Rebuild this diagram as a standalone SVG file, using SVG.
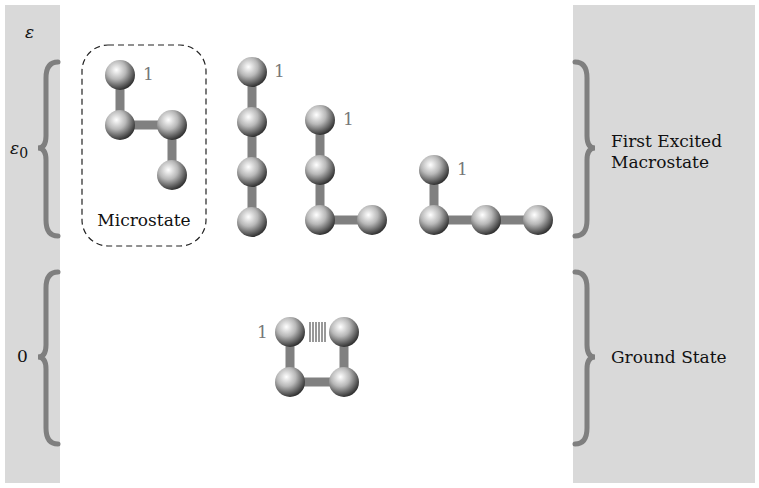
<svg xmlns="http://www.w3.org/2000/svg" width="759" height="488" viewBox="0 0 759 488">
<defs>
<radialGradient id="g" cx="0.38" cy="0.33" r="0.7">
<stop offset="0" stop-color="#ffffff"/><stop offset="0.45" stop-color="#b8b8b8"/><stop offset="1" stop-color="#2a2a2a"/>
</radialGradient>
<style>
.b{fill:url(#g)}
.bond{stroke:#808080;stroke-width:9;fill:none}
.br{stroke:#7f7f7f;stroke-width:5;fill:none;stroke-linecap:round}
.t{font-family:"DejaVu Serif","Liberation Serif",serif;font-size:17px;fill:#111}
.n{font-family:"DejaVu Serif","Liberation Serif",serif;font-size:17px;fill:#777}
</style>
</defs>
<rect x="0" y="0" width="759" height="488" fill="#fff"/>
<rect x="5" y="5" width="55" height="478" fill="#d9d9d9"/>
<rect x="573" y="5" width="182" height="478" fill="#d9d9d9"/>
<g id="labels">
<text class="t" x="25" y="38" font-style="italic">ε</text>
<text class="t" x="10" y="154" font-style="italic">ε<tspan font-style="normal" font-size="14" dy="4">0</tspan></text>
<text class="t" x="17" y="362">0</text>
<text class="t" x="611" y="147">First Excited</text>
<text class="t" x="611" y="168">Macrostate</text>
<text class="t" x="611" y="363">Ground State</text>
</g>
<g id="connectors">
<path class="br" d="M58,62 Q46,62 46,78 L46,136 Q46,148 38,148 Q46,148 46,160 L46,220 Q46,236 58,236"/>
<path class="br" d="M58,272 Q46,272 46,288 L46,345 Q46,357 38,357 Q46,357 46,369 L46,428 Q46,444 58,444"/>
<path class="br" d="M575,62 Q587,62 587,78 L587,136 Q587,148 595,148 Q587,148 587,160 L587,220 Q587,236 575,236"/>
<path class="br" d="M575,272 Q587,272 587,288 L587,345 Q587,357 595,357 Q587,357 587,369 L587,428 Q587,444 575,444"/>
<path class="bond" d="M120,75 V125 H172 V175"/>
<path class="bond" d="M252,72 V222"/>
<path class="bond" d="M320,120 V220 H372"/>
<path class="bond" d="M434,170 V220 H538"/>
<path class="bond" d="M290,332 V382 H344 V332"/>
<g stroke="#333" stroke-width="1">
<path d="M310,322V342M313,322V342M316,322V342M319,322V342M322,322V342M325,322V342"/>
</g>
</g>
<g id="microstate">
<rect x="82" y="45" width="124" height="201" rx="26" fill="none" stroke="#222" stroke-width="1.2" stroke-dasharray="6,4"/>
<circle class="b" cx="120" cy="75" r="15"/><circle class="b" cx="120" cy="125" r="15"/><circle class="b" cx="172" cy="125" r="15"/><circle class="b" cx="172" cy="175" r="15"/>
<text class="n" x="143" y="80">1</text>
<text class="t" x="144" y="226" text-anchor="middle">Microstate</text>
</g>
<g id="chain2">
<circle class="b" cx="252" cy="72" r="15"/><circle class="b" cx="252" cy="122" r="15"/><circle class="b" cx="252" cy="172" r="15"/><circle class="b" cx="252" cy="222" r="15"/>
<text class="n" x="274" y="77">1</text>
</g>
<g id="chain3">
<circle class="b" cx="320" cy="120" r="15"/><circle class="b" cx="320" cy="170" r="15"/><circle class="b" cx="320" cy="220" r="15"/><circle class="b" cx="372" cy="220" r="15"/>
<text class="n" x="343" y="125">1</text>
</g>
<g id="chain4">
<circle class="b" cx="434" cy="170" r="15"/><circle class="b" cx="434" cy="220" r="15"/><circle class="b" cx="486" cy="220" r="15"/><circle class="b" cx="538" cy="220" r="15"/>
<text class="n" x="457" y="175">1</text>
</g>
<g id="ground">
<circle class="b" cx="290" cy="332" r="15"/><circle class="b" cx="344" cy="332" r="15"/><circle class="b" cx="290" cy="382" r="15"/><circle class="b" cx="344" cy="382" r="15"/>
<text class="n" x="257" y="338">1</text>
</g>
</svg>
